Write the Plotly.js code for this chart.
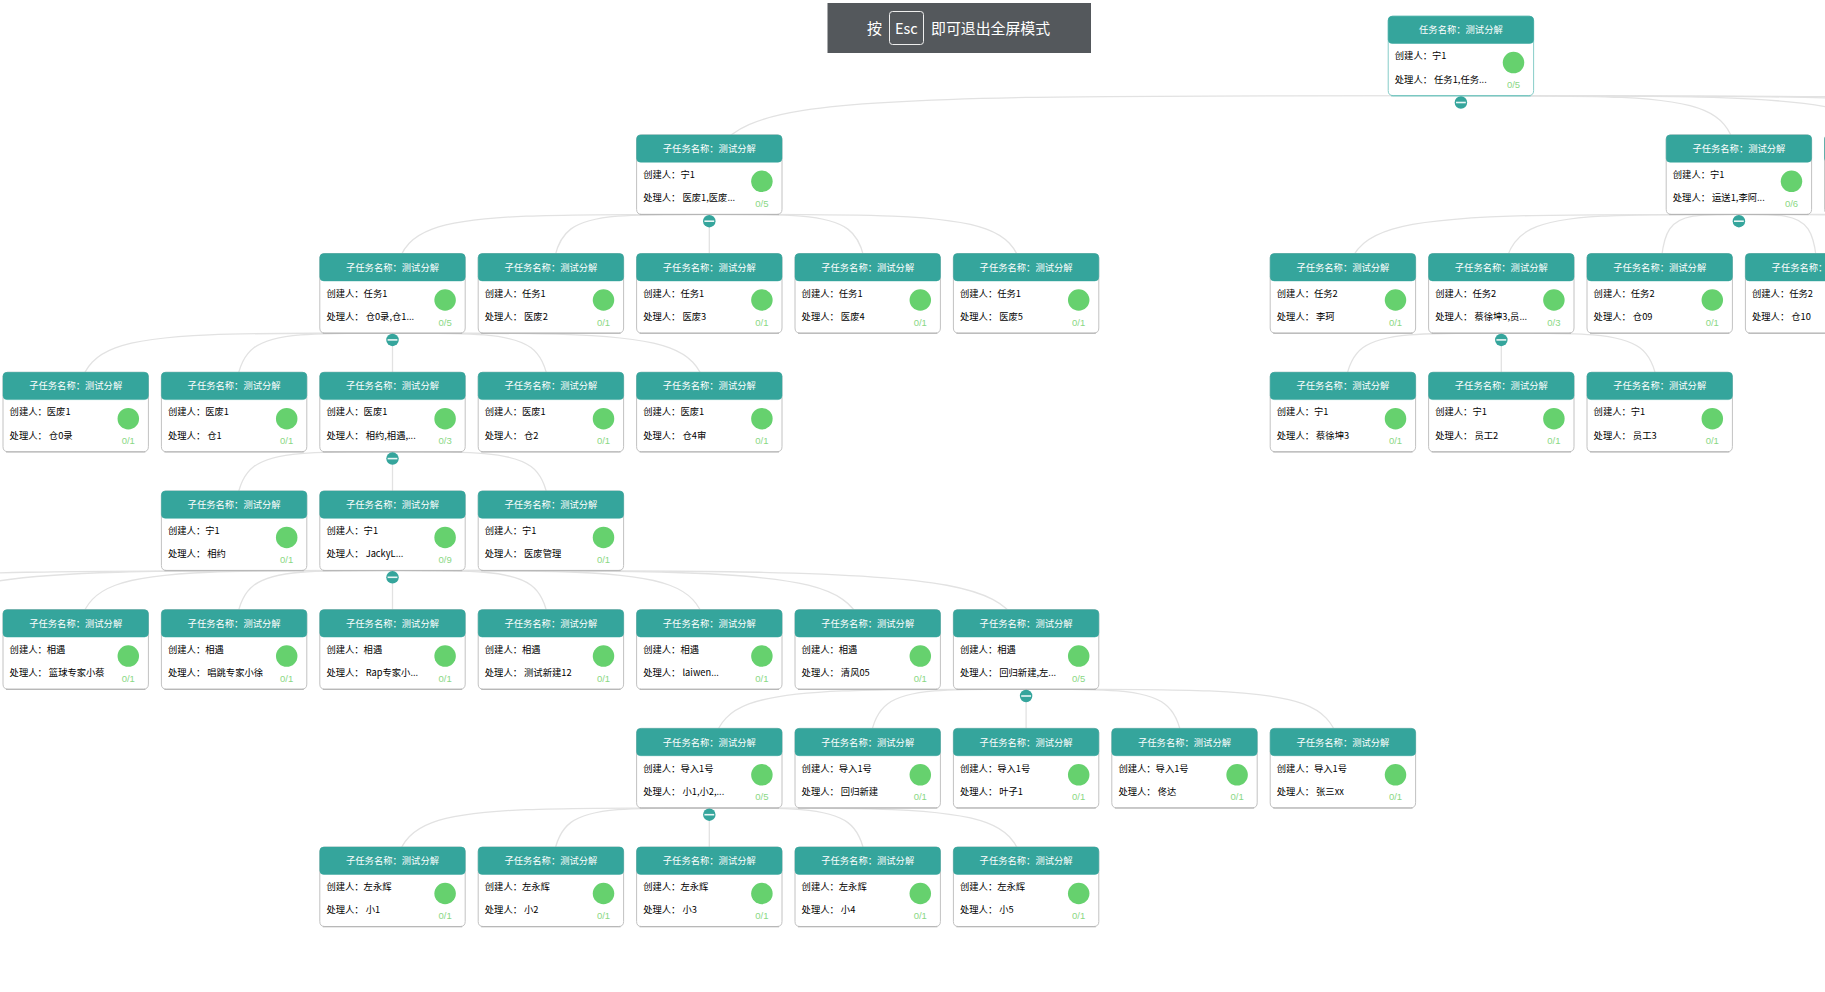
<!DOCTYPE html>
<html><head><meta charset="utf-8">
<script src="https://cdn.plot.ly/plotly-3.0.1.min.js"></script>
<style>html,body{margin:0;padding:0;background:#fff;overflow:hidden}</style></head>
<body><div id="chart" style="width:1825px;height:992px"></div>
<script>
// --- tree data: one entry per node, same order in every list
const nodeCols = [8.745, 4,10.5,11.5,12.5,13.5, 2,3,4,5,6, 8,9,10,11,12,13, 0,1,2,3,4, 8,9,10, 1,2,3, -2,-1,0,1,2,3,4,5,6, 4,5,6,7,8, 2,3,4,5,6];
const nodeRows = [0, 1,1,1,1,1, 2,2,2,2,2, 2,2,2,2,2,2, 3,3,3,3,3, 3,3,3, 4,4,4, 5,5,5,5,5,5,5,5,5, 6,6,6,6,6, 7,7,7,7,7];
const nodeParents = [-1, 0,0,0,0,0, 1,1,1,1,1, 2,2,2,2,2,2, 6,6,6,6,6, 12,12,12, 19,19,19, 26,26,26,26,26,26,26,26,26, 36,36,36,36,36, 37,37,37,37,37];
const T = "子任务名称：测试分解";
const titles = ["任务名称：测试分解", T,T,"","","", T,T,T,T,T, T,T,T,T,"","", T,T,T,T,T, T,T,T, T,T,T, "","",T,T,T,T,T,T,T, T,T,T,T,T, T,T,T,T,T];
const creators = ["宁1", "宁1","宁1","","","", "任务1","任务1","任务1","任务1","任务1", "任务2","任务2","任务2","任务2","","",
  "医废1","医废1","医废1","医废1","医废1", "宁1","宁1","宁1", "宁1","宁1","宁1",
  "","","相遇","相遇","相遇","相遇","相遇","相遇","相遇", "导入1号","导入1号","导入1号","导入1号","导入1号",
  "左永辉","左永辉","左永辉","左永辉","左永辉"];
const assignees = ["任务1,任务...", "医废1,医废...","运送1,李阿...","","","", "仓0录,仓1...","医废2","医废3","医废4","医废5",
  "李珂","蔡徐坤3,员...","仓09","仓10","","", "仓0录","仓1","相约,相遇,...","仓2","仓4审", "蔡徐坤3","员工2","员工3",
  "相约","JackyL...","医废管理", "","","篮球专家小蔡","唱跳专家小徐","Rap专家小...","测试新建12","laiwen...","清风05","回归新建,左...",
  "小1,小2,...","回归新建","叶子1","佟达","张三xx", "小1","小2","小3","小4","小5"];
const progress = ["0/5", "0/5","0/6","","","", "0/5","0/1","0/1","0/1","0/1", "0/1","0/3","0/1","0/1","","",
  "0/1","0/1","0/3","0/1","0/1", "0/1","0/1","0/1", "0/1","0/9","0/1",
  "","","0/1","0/1","0/1","0/1","0/1","0/1","0/5", "0/5","0/1","0/1","0/1","0/1", "0/1","0/1","0/1","0/1","0/1"];

// --- drawing constants
const W = 1825, H = 992, UX = 158.4, UY = 118.7, X0 = 3.0, Y0 = 16.2;
const CW = 145.4, CH = 79.4, HH = 27.3;
const dx = p => p / UX, dy = p => p / UY;
const TEAL = "#35a59c", GREEN = "#66d16e";
const n = nodeCols.length, idx = [...Array(n).keys()];

function rr(x0, y0, x1, y1, a, b) {
  return `M${x0 + a},${y0} L${x1 - a},${y0} Q${x1},${y0} ${x1},${y0 + b} L${x1},${y1 - b} Q${x1},${y1} ${x1 - a},${y1} L${x0 + a},${y1} Q${x0},${y1} ${x0},${y1 - b} L${x0},${y0 + b} Q${x0},${y0} ${x0 + a},${y0} Z`;
}

const shapes = [];
// links are drawn first so the cards cover their lower ends
idx.forEach(i => {
  const p = nodeParents[i];
  if (p < 0) return;
  const px = nodeCols[p] + dx(CW / 2), py = nodeRows[p] + dy(CH);
  const cx = nodeCols[i] + dx(CW / 2), ey = py + 1;
  shapes.push({type: "path", layer: "below", xref: "x", yref: "y",
    path: `M${px},${py} C${cx},${py} ${cx},${py} ${cx},${ey}`,
    line: {color: "#e2e2e2", width: 1.3}, fillcolor: "rgba(0,0,0,0)"});
});
idx.forEach(i => {
  const c = nodeCols[i], r = nodeRows[i];
  shapes.push({type: "path", layer: "below", xref: "x", yref: "y",
    path: rr(c, r, c + dx(CW), r + dy(CH), dx(5), dy(5)),
    line: {color: i === 0 ? "#86cdc8" : "#c2c2c2", width: 1}, fillcolor: "#fff"});
  shapes.push({type: "line", layer: "below", xref: "x", yref: "y",
    x0: c + dx(3), x1: c + dx(CW - 3), y0: r + dy(CH + 0.3), y1: r + dy(CH + 0.3),
    line: {color: i === 0 ? "#6dc2bc" : "#b4b4b4", width: 1}});
  shapes.push({type: "path", layer: "below", xref: "x", yref: "y",
    path: rr(c, r, c + dx(CW), r + dy(HH), dx(4), dy(4)),
    line: {color: TEAL, width: 0.5}, fillcolor: TEAL});
});
// full-screen notice at the top
const pxX = p => p / W, pxY = p => 1 - p / H;
shapes.push({type: "rect", layer: "above", xref: "paper", yref: "paper", x0: pxX(827.5), x1: pxX(1091), y0: pxY(3), y1: pxY(53),
  fillcolor: "#54585c", line: {width: 0}});
shapes.push({type: "path", layer: "above", xref: "paper", yref: "paper",
  path: rr(pxX(889.5), pxY(11.5), pxX(923.5), pxY(44.5), 3 / W, -3 / H),
  fillcolor: "rgba(0,0,0,0)", line: {color: "#eeeeee", width: 1}});
const note = (x, text, size, anchor) => ({xref: "paper", yref: "paper", x: pxX(x), y: pxY(28), xanchor: anchor, yanchor: "middle",
  showarrow: false, text, font: {family: "Noto Sans CJK SC", size, color: "#fff"}});
const annotations = [note(874, "按", 15, "center"), note(906.5, "Esc", 14.5, "center"), note(929.3, "即可退出全屏模式", 14.9, "left")];

const CJK = "'Noto Sans CJK SC', sans-serif";
const textTrace = (xs, ys, text, pos, color, size, family) => ({type: "scatter", mode: "text", x: xs, y: ys, text, textposition: pos,
  textfont: {family: family || CJK, size, color}, hoverinfo: "skip", showlegend: false, cliponaxis: true});
const parentIdx = idx.filter(i => idx.some(j => nodeParents[j] === i));

const data = [
  {type: "scatter", mode: "markers", x: nodeCols.map(c => c + dx(125.3)), y: nodeRows.map(r => r + dy(46.4)),
   marker: {color: GREEN, size: 21.5, line: {width: 0}}, hoverinfo: "skip", showlegend: false},
  {type: "scatter", mode: "markers", x: parentIdx.map(i => nodeCols[i] + dx(CW / 2)), y: parentIdx.map(i => nodeRows[i] + dy(86.3)),
   marker: {color: TEAL, size: 12.5, line: {width: 0}}, hoverinfo: "skip", showlegend: false},
  {type: "scatter", mode: "markers", x: parentIdx.map(i => nodeCols[i] + dx(CW / 2)), y: parentIdx.map(i => nodeRows[i] + dy(86.3)),
   marker: {symbol: "line-ew", color: "#fff", size: 7, line: {color: "#e8f6f5", width: 1.6}}, hoverinfo: "skip", showlegend: false},
  textTrace(nodeCols.map(c => c + dx(CW / 2)), nodeRows.map(r => r + dy(14.8)), titles, "middle center", "#fff", 9.3),
  textTrace(nodeCols.map(c => c + dx(6.6)), nodeRows.map(r => r + dy(40.8)), creators.map(s => s ? "创建人：" + s : ""), "middle right", "#000", 9.3),
  textTrace(nodeCols.map(c => c + dx(6.6)), nodeRows.map(r => r + dy(64)), assignees.map(s => s ? "处理人： " + s : ""), "middle right", "#000", 9.3),
  textTrace(nodeCols.map(c => c + dx(125.3)), nodeRows.map(r => r + dy(69.7)), progress, "middle center", "#8ad884", 9.5, "'Liberation Sans', sans-serif")
];

const layout = {
  width: W, height: H, margin: {l: 0, r: 0, t: 0, b: 0, pad: 0}, paper_bgcolor: "#fff", plot_bgcolor: "#fff",
  showlegend: false, hovermode: false, shapes, annotations,
  xaxis: {range: [-X0 / UX, (W - X0) / UX], visible: false, fixedrange: true},
  yaxis: {range: [(H - Y0) / UY, -Y0 / UY], visible: false, fixedrange: true}
};
Plotly.newPlot("chart", data, layout, {displayModeBar: false, staticPlot: true});
</script></body></html>
